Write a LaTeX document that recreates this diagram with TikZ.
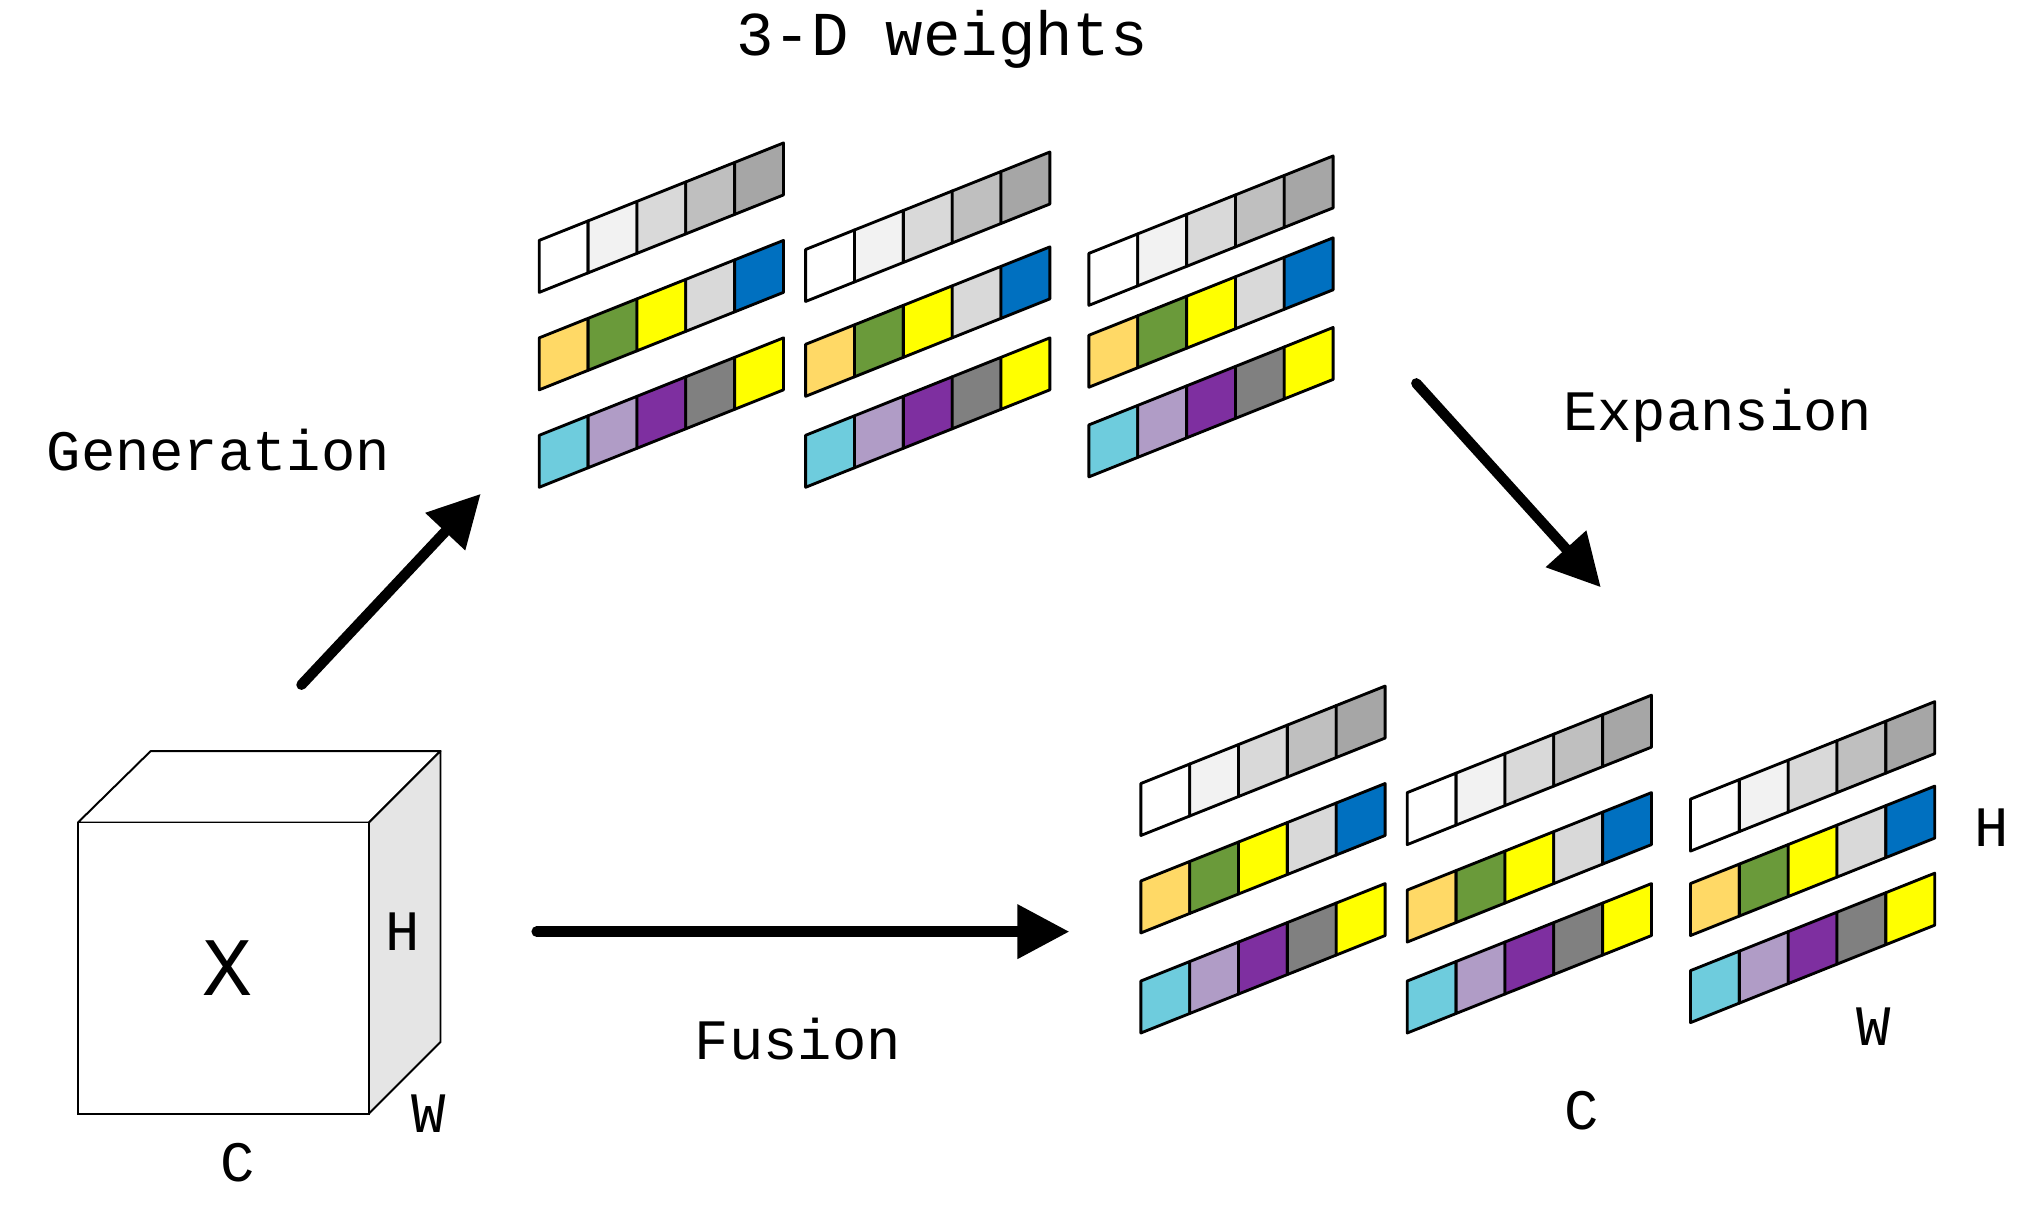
\documentclass[tikz,border=0pt]{standalone}
\usepackage{fontspec}
\setmainfont{Liberation Mono}
\usetikzlibrary{arrows.meta}
\definecolor{g1}{HTML}{F2F2F2}\definecolor{g2}{HTML}{D9D9D9}\definecolor{g3}{HTML}{BFBFBF}\definecolor{g4}{HTML}{A6A6A6}
\definecolor{c1}{HTML}{FFD966}\definecolor{c2}{HTML}{6A9A3A}\definecolor{c3}{HTML}{FFFF00}\definecolor{c4}{HTML}{0070C0}
\definecolor{d1}{HTML}{6ECCDD}\definecolor{d2}{HTML}{B09CC6}\definecolor{d3}{HTML}{7E2FA0}\definecolor{d4}{HTML}{808080}
\newcommand\wstrip[7]{%
 \foreach \c [count=\i from 0] in {#3,#4,#5,#6,#7}
  \filldraw[fill=\c,draw=black,line width=2.2pt,line join=round] (#1+\i*37.6,#2-\i*15) -- ++(37.6,-15) -- ++(0,-40) -- ++(-37.6,15) -- cycle;}
\newcommand\wgroup[4]{%
 \wstrip{#1}{#2}{white}{g1}{g2}{g3}{g4}
 \wstrip{#1}{#3}{c1}{c2}{c3}{g2}{c4}
 \wstrip{#1}{#4}{d1}{d2}{d3}{d4}{c3}}
\tikzset{lbl/.style={font=\fontsize{44}{48}\selectfont,inner sep=0pt},
 big/.style={line width=8pt,-{Triangle[length=40pt,width=40pt]},line cap=round}}
\begin{document}
\begin{tikzpicture}[x=1pt,y=-1pt]
\useasboundingbox (0,0) rectangle (1560,927);
% top groups
\wgroup{415}{225}{300}{375}
\wgroup{620}{232}{305}{375}
\wgroup{838}{235}{298}{367}
% bottom groups
\wgroup{878}{643}{718}{795}
\wgroup{1083}{650}{725}{795}
\wgroup{1301}{655}{720}{787}
% cube
\filldraw[fill=white,line width=1.5pt,line join=round] (60,633) -- (116,578) -- (339,578) -- (284,633) -- cycle;
\filldraw[fill=black!10,line width=1.5pt,line join=round] (284,633) -- (339,578) -- (339,802) -- (284,857) -- cycle;
\draw[line width=1.5pt,fill=white] (60,633) rectangle (284,857);
\node[lbl,font=\fontsize{64}{70}\selectfont] (x) at (175,745) {X};
\node[lbl] (h) at (310,717) {H};
\node[lbl] (w) at (330,857) {W};
\node[lbl] (c) at (183,895) {C};
\node[lbl] (c2) at (1217,855) {C};
\node[lbl] (h2) at (1533,637) {H};
\node[lbl] (w2) at (1442,790) {W};
\node[lbl,font=\fontsize{48}{52}\selectfont] (t) at (725,30) {3-D weights};
\node[lbl] (gen) at (168,346) {Generation};
\node[lbl] (exp) at (1322,320) {Expansion};
\node[lbl] (fus) at (614,800) {Fusion};
\coordinate (a1) at (232,527); \coordinate (a2) at (370,380);
\coordinate (b1) at (1090,295); \coordinate (b2) at (1232,452);
\coordinate (f1) at (413,717); \coordinate (f2) at (823,717);
\draw[big] (a1) -- (a2);
\draw[big] (b1) -- (b2);
\draw[big] (f1) -- (f2);
\end{tikzpicture}
\end{document}
